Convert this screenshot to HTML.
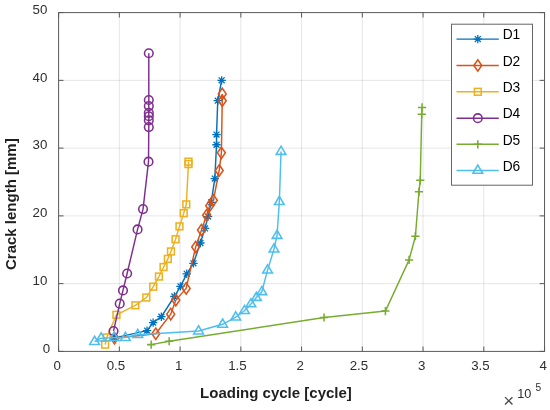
<!DOCTYPE html>
<html lang="en"><head><meta charset="utf-8"><title>Crack length vs loading cycle</title>
<style>
html,body{margin:0;padding:0;background:#fff;}
body{width:550px;height:410px;overflow:hidden;}
svg{display:block;}
text{font-family:"Liberation Sans",sans-serif;fill:#2e2e2e;}
.tk{font-size:13.3px;}
.lb{font-size:15px;font-weight:bold;fill:#1f1f1f;}
</style></head><body>
<svg width="550" height="410" viewBox="0 0 550 410">
<rect width="550" height="410" fill="#ffffff"/>
<path d="M119.34 12.6V351.4M180.09 12.6V351.4M240.83 12.6V351.4M301.57 12.6V351.4M362.32 12.6V351.4M423.06 12.6V351.4M483.81 12.6V351.4M58.6 283.64H544.55M58.6 215.88H544.55M58.6 148.12H544.55M58.6 80.36H544.55" stroke="#262626" stroke-opacity="0.13" stroke-width="0.9" fill="none"/>
<g><path d="M114.48 337.85L147.04 330.60L153.12 322.60L161.38 316.71L174.38 296.51L180.45 286.35L186.77 273.81L193.45 263.31L200.38 242.98L204.99 228.42L208.03 216.56L211.19 202.33L214.83 178.61L216.53 144.73L216.53 134.57L217.75 100.69L221.64 80.36" fill="none" stroke="#0072BD" stroke-width="1.45" stroke-linejoin="round"/>
<path d="M110.28 337.85H118.68M114.48 333.65V342.05M111.51 334.88L117.45 340.82M111.51 340.82L117.45 334.88" fill="none" stroke="#0072BD" stroke-width="1.3"/>
<path d="M142.84 330.60H151.24M147.04 326.40V334.80M144.07 327.63L150.01 333.57M144.07 333.57L150.01 327.63" fill="none" stroke="#0072BD" stroke-width="1.3"/>
<path d="M148.92 322.60H157.32M153.12 318.40V326.80M150.15 319.63L156.09 325.57M150.15 325.57L156.09 319.63" fill="none" stroke="#0072BD" stroke-width="1.3"/>
<path d="M157.18 316.71H165.58M161.38 312.51V320.91M158.41 313.74L164.35 319.68M158.41 319.68L164.35 313.74" fill="none" stroke="#0072BD" stroke-width="1.3"/>
<path d="M170.18 296.51H178.58M174.38 292.31V300.71M171.41 293.54L177.35 299.48M171.41 299.48L177.35 293.54" fill="none" stroke="#0072BD" stroke-width="1.3"/>
<path d="M176.25 286.35H184.65M180.45 282.15V290.55M177.48 283.38L183.42 289.32M177.48 289.32L183.42 283.38" fill="none" stroke="#0072BD" stroke-width="1.3"/>
<path d="M182.57 273.81H190.97M186.77 269.61V278.01M183.80 270.84L189.74 276.78M183.80 276.78L189.74 270.84" fill="none" stroke="#0072BD" stroke-width="1.3"/>
<path d="M189.25 263.31H197.65M193.45 259.11V267.51M190.48 260.34L196.42 266.28M190.48 266.28L196.42 260.34" fill="none" stroke="#0072BD" stroke-width="1.3"/>
<path d="M196.18 242.98H204.58M200.38 238.78V247.18M197.41 240.01L203.35 245.95M197.41 245.95L203.35 240.01" fill="none" stroke="#0072BD" stroke-width="1.3"/>
<path d="M200.79 228.42H209.19M204.99 224.22V232.62M202.02 225.45L207.96 231.39M202.02 231.39L207.96 225.45" fill="none" stroke="#0072BD" stroke-width="1.3"/>
<path d="M203.83 216.56H212.23M208.03 212.36V220.76M205.06 213.59L211.00 219.53M205.06 219.53L211.00 213.59" fill="none" stroke="#0072BD" stroke-width="1.3"/>
<path d="M206.99 202.33H215.39M211.19 198.13V206.53M208.22 199.36L214.16 205.30M208.22 205.30L214.16 199.36" fill="none" stroke="#0072BD" stroke-width="1.3"/>
<path d="M210.63 178.61H219.03M214.83 174.41V182.81M211.86 175.64L217.80 181.58M211.86 181.58L217.80 175.64" fill="none" stroke="#0072BD" stroke-width="1.3"/>
<path d="M212.33 144.73H220.73M216.53 140.53V148.93M213.56 141.76L219.50 147.70M213.56 147.70L219.50 141.76" fill="none" stroke="#0072BD" stroke-width="1.3"/>
<path d="M212.33 134.57H220.73M216.53 130.37V138.77M213.56 131.60L219.50 137.54M213.56 137.54L219.50 131.60" fill="none" stroke="#0072BD" stroke-width="1.3"/>
<path d="M213.55 100.69H221.95M217.75 96.49V104.89M214.78 97.72L220.72 103.66M214.78 103.66L220.72 97.72" fill="none" stroke="#0072BD" stroke-width="1.3"/>
<path d="M217.44 80.36H225.84M221.64 76.16V84.56M218.67 77.39L224.61 83.33M218.67 83.33L224.61 77.39" fill="none" stroke="#0072BD" stroke-width="1.3"/>
</g>
<g><path d="M114.48 338.19L155.79 333.78L170.73 314.13L175.84 300.11L186.16 288.38L195.64 247.05L201.47 230.11L206.57 215.20L209.73 205.72L213.38 200.30L219.21 170.48L221.39 152.86L222.24 100.69L222.24 93.91" fill="none" stroke="#D95319" stroke-width="1.45" stroke-linejoin="round"/>
<path d="M114.48 332.49L118.43 338.19L114.48 343.89L110.53 338.19Z" fill="none" stroke="#D95319" stroke-width="1.55" stroke-linejoin="miter"/>
<path d="M155.79 328.08L159.74 333.78L155.79 339.48L151.84 333.78Z" fill="none" stroke="#D95319" stroke-width="1.55" stroke-linejoin="miter"/>
<path d="M170.73 308.43L174.68 314.13L170.73 319.83L166.78 314.13Z" fill="none" stroke="#D95319" stroke-width="1.55" stroke-linejoin="miter"/>
<path d="M175.84 294.41L179.79 300.11L175.84 305.81L171.89 300.11Z" fill="none" stroke="#D95319" stroke-width="1.55" stroke-linejoin="miter"/>
<path d="M186.16 282.68L190.11 288.38L186.16 294.08L182.21 288.38Z" fill="none" stroke="#D95319" stroke-width="1.55" stroke-linejoin="miter"/>
<path d="M195.64 241.35L199.59 247.05L195.64 252.75L191.69 247.05Z" fill="none" stroke="#D95319" stroke-width="1.55" stroke-linejoin="miter"/>
<path d="M201.47 224.41L205.42 230.11L201.47 235.81L197.52 230.11Z" fill="none" stroke="#D95319" stroke-width="1.55" stroke-linejoin="miter"/>
<path d="M206.57 209.50L210.52 215.20L206.57 220.90L202.62 215.20Z" fill="none" stroke="#D95319" stroke-width="1.55" stroke-linejoin="miter"/>
<path d="M209.73 200.02L213.68 205.72L209.73 211.42L205.78 205.72Z" fill="none" stroke="#D95319" stroke-width="1.55" stroke-linejoin="miter"/>
<path d="M213.38 194.60L217.33 200.30L213.38 206.00L209.43 200.30Z" fill="none" stroke="#D95319" stroke-width="1.55" stroke-linejoin="miter"/>
<path d="M219.21 164.78L223.16 170.48L219.21 176.18L215.26 170.48Z" fill="none" stroke="#D95319" stroke-width="1.55" stroke-linejoin="miter"/>
<path d="M221.39 147.16L225.34 152.86L221.39 158.56L217.44 152.86Z" fill="none" stroke="#D95319" stroke-width="1.55" stroke-linejoin="miter"/>
<path d="M222.24 94.99L226.19 100.69L222.24 106.39L218.29 100.69Z" fill="none" stroke="#D95319" stroke-width="1.55" stroke-linejoin="miter"/>
<path d="M222.24 88.21L226.19 93.91L222.24 99.61L218.29 93.91Z" fill="none" stroke="#D95319" stroke-width="1.55" stroke-linejoin="miter"/>
</g>
<g><path d="M105.13 344.62L106.83 337.51L116.43 314.81L135.38 305.32L146.31 297.53L153.24 286.69L158.95 276.53L163.57 267.04L167.82 258.91L170.98 251.45L175.59 239.26L179.48 226.38L183.73 213.17L186.28 204.36L188.47 164.04L188.47 161.67" fill="none" stroke="#EDB120" stroke-width="1.45" stroke-linejoin="round"/>
<rect x="101.73" y="341.22" width="6.8" height="6.8" fill="none" stroke="#EDB120" stroke-width="1.55"/>
<rect x="103.43" y="334.11" width="6.8" height="6.8" fill="none" stroke="#EDB120" stroke-width="1.55"/>
<rect x="113.03" y="311.41" width="6.8" height="6.8" fill="none" stroke="#EDB120" stroke-width="1.55"/>
<rect x="131.98" y="301.92" width="6.8" height="6.8" fill="none" stroke="#EDB120" stroke-width="1.55"/>
<rect x="142.91" y="294.13" width="6.8" height="6.8" fill="none" stroke="#EDB120" stroke-width="1.55"/>
<rect x="149.84" y="283.29" width="6.8" height="6.8" fill="none" stroke="#EDB120" stroke-width="1.55"/>
<rect x="155.55" y="273.13" width="6.8" height="6.8" fill="none" stroke="#EDB120" stroke-width="1.55"/>
<rect x="160.17" y="263.64" width="6.8" height="6.8" fill="none" stroke="#EDB120" stroke-width="1.55"/>
<rect x="164.42" y="255.51" width="6.8" height="6.8" fill="none" stroke="#EDB120" stroke-width="1.55"/>
<rect x="167.58" y="248.05" width="6.8" height="6.8" fill="none" stroke="#EDB120" stroke-width="1.55"/>
<rect x="172.19" y="235.86" width="6.8" height="6.8" fill="none" stroke="#EDB120" stroke-width="1.55"/>
<rect x="176.08" y="222.98" width="6.8" height="6.8" fill="none" stroke="#EDB120" stroke-width="1.55"/>
<rect x="180.33" y="209.77" width="6.8" height="6.8" fill="none" stroke="#EDB120" stroke-width="1.55"/>
<rect x="182.88" y="200.96" width="6.8" height="6.8" fill="none" stroke="#EDB120" stroke-width="1.55"/>
<rect x="185.07" y="160.64" width="6.8" height="6.8" fill="none" stroke="#EDB120" stroke-width="1.55"/>
<rect x="185.07" y="158.27" width="6.8" height="6.8" fill="none" stroke="#EDB120" stroke-width="1.55"/>
</g>
<g><path d="M113.51 331.07L119.71 303.63L122.99 290.42L127.12 273.48L137.57 229.43L143.03 209.10L148.50 161.67L148.80 127.11L148.80 120.34L148.80 116.27L148.80 112.88L148.80 106.11L148.80 100.01L148.80 53.26" fill="none" stroke="#7E2F8E" stroke-width="1.45" stroke-linejoin="round"/>
<circle cx="113.51" cy="331.07" r="4.3" fill="none" stroke="#7E2F8E" stroke-width="1.55"/>
<circle cx="119.71" cy="303.63" r="4.3" fill="none" stroke="#7E2F8E" stroke-width="1.55"/>
<circle cx="122.99" cy="290.42" r="4.3" fill="none" stroke="#7E2F8E" stroke-width="1.55"/>
<circle cx="127.12" cy="273.48" r="4.3" fill="none" stroke="#7E2F8E" stroke-width="1.55"/>
<circle cx="137.57" cy="229.43" r="4.3" fill="none" stroke="#7E2F8E" stroke-width="1.55"/>
<circle cx="143.03" cy="209.10" r="4.3" fill="none" stroke="#7E2F8E" stroke-width="1.55"/>
<circle cx="148.50" cy="161.67" r="4.3" fill="none" stroke="#7E2F8E" stroke-width="1.55"/>
<circle cx="148.80" cy="127.11" r="4.3" fill="none" stroke="#7E2F8E" stroke-width="1.55"/>
<circle cx="148.80" cy="120.34" r="4.3" fill="none" stroke="#7E2F8E" stroke-width="1.55"/>
<circle cx="148.80" cy="116.27" r="4.3" fill="none" stroke="#7E2F8E" stroke-width="1.55"/>
<circle cx="148.80" cy="112.88" r="4.3" fill="none" stroke="#7E2F8E" stroke-width="1.55"/>
<circle cx="148.80" cy="106.11" r="4.3" fill="none" stroke="#7E2F8E" stroke-width="1.55"/>
<circle cx="148.80" cy="100.01" r="4.3" fill="none" stroke="#7E2F8E" stroke-width="1.55"/>
<circle cx="148.80" cy="53.26" r="4.3" fill="none" stroke="#7E2F8E" stroke-width="1.55"/>
</g>
<g><path d="M151.17 344.62L169.15 341.24L324.05 317.52L385.40 311.08L409.09 259.92L415.41 236.21L418.93 191.83L420.27 180.31L421.73 114.24L422.09 107.46" fill="none" stroke="#77AC30" stroke-width="1.45" stroke-linejoin="round"/>
<path d="M147.07 344.62H155.27M151.17 340.52V348.72" fill="none" stroke="#77AC30" stroke-width="1.55"/>
<path d="M165.05 341.24H173.25M169.15 337.14V345.34" fill="none" stroke="#77AC30" stroke-width="1.55"/>
<path d="M319.95 317.52H328.15M324.05 313.42V321.62" fill="none" stroke="#77AC30" stroke-width="1.55"/>
<path d="M381.30 311.08H389.50M385.40 306.98V315.18" fill="none" stroke="#77AC30" stroke-width="1.55"/>
<path d="M404.99 259.92H413.19M409.09 255.82V264.02" fill="none" stroke="#77AC30" stroke-width="1.55"/>
<path d="M411.31 236.21H419.51M415.41 232.11V240.31" fill="none" stroke="#77AC30" stroke-width="1.55"/>
<path d="M414.83 191.83H423.03M418.93 187.73V195.93" fill="none" stroke="#77AC30" stroke-width="1.55"/>
<path d="M416.17 180.31H424.37M420.27 176.21V184.41" fill="none" stroke="#77AC30" stroke-width="1.55"/>
<path d="M417.63 114.24H425.83M421.73 110.14V118.34" fill="none" stroke="#77AC30" stroke-width="1.55"/>
<path d="M417.99 107.46H426.19M422.09 103.36V111.56" fill="none" stroke="#77AC30" stroke-width="1.55"/>
</g>
<g><path d="M94.56 341.57L101.24 338.19L114.00 337.64L125.42 337.64L137.81 334.66L198.55 331.07L222.61 324.30L235.73 317.18L244.48 310.74L250.91 303.97L256.38 297.53L261.85 291.77L267.56 270.09L274.00 249.08L277.03 235.53L279.34 201.65L281.04 151.51" fill="none" stroke="#4DBEEE" stroke-width="1.45" stroke-linejoin="round"/>
<path d="M94.56 336.27L99.41 344.42L89.71 344.42Z" fill="none" stroke="#4DBEEE" stroke-width="1.55" stroke-linejoin="miter"/>
<path d="M101.24 332.89L106.09 341.04L96.39 341.04Z" fill="none" stroke="#4DBEEE" stroke-width="1.55" stroke-linejoin="miter"/>
<path d="M114.00 332.34L118.85 340.49L109.15 340.49Z" fill="none" stroke="#4DBEEE" stroke-width="1.55" stroke-linejoin="miter"/>
<path d="M125.42 332.34L130.27 340.49L120.57 340.49Z" fill="none" stroke="#4DBEEE" stroke-width="1.55" stroke-linejoin="miter"/>
<path d="M137.81 329.36L142.66 337.51L132.96 337.51Z" fill="none" stroke="#4DBEEE" stroke-width="1.55" stroke-linejoin="miter"/>
<path d="M198.55 325.77L203.40 333.92L193.70 333.92Z" fill="none" stroke="#4DBEEE" stroke-width="1.55" stroke-linejoin="miter"/>
<path d="M222.61 319.00L227.46 327.15L217.76 327.15Z" fill="none" stroke="#4DBEEE" stroke-width="1.55" stroke-linejoin="miter"/>
<path d="M235.73 311.88L240.58 320.03L230.88 320.03Z" fill="none" stroke="#4DBEEE" stroke-width="1.55" stroke-linejoin="miter"/>
<path d="M244.48 305.44L249.33 313.59L239.63 313.59Z" fill="none" stroke="#4DBEEE" stroke-width="1.55" stroke-linejoin="miter"/>
<path d="M250.91 298.67L255.76 306.82L246.06 306.82Z" fill="none" stroke="#4DBEEE" stroke-width="1.55" stroke-linejoin="miter"/>
<path d="M256.38 292.23L261.23 300.38L251.53 300.38Z" fill="none" stroke="#4DBEEE" stroke-width="1.55" stroke-linejoin="miter"/>
<path d="M261.85 286.47L266.70 294.62L257.00 294.62Z" fill="none" stroke="#4DBEEE" stroke-width="1.55" stroke-linejoin="miter"/>
<path d="M267.56 264.79L272.41 272.94L262.71 272.94Z" fill="none" stroke="#4DBEEE" stroke-width="1.55" stroke-linejoin="miter"/>
<path d="M274.00 243.78L278.85 251.93L269.15 251.93Z" fill="none" stroke="#4DBEEE" stroke-width="1.55" stroke-linejoin="miter"/>
<path d="M277.03 230.23L281.88 238.38L272.18 238.38Z" fill="none" stroke="#4DBEEE" stroke-width="1.55" stroke-linejoin="miter"/>
<path d="M279.34 196.35L284.19 204.50L274.49 204.50Z" fill="none" stroke="#4DBEEE" stroke-width="1.55" stroke-linejoin="miter"/>
<path d="M281.04 146.21L285.89 154.36L276.19 154.36Z" fill="none" stroke="#4DBEEE" stroke-width="1.55" stroke-linejoin="miter"/>
</g>
<path d="M58.60 351.4v-4.9M58.60 12.6v4.9M119.34 351.4v-4.9M119.34 12.6v4.9M180.09 351.4v-4.9M180.09 12.6v4.9M240.83 351.4v-4.9M240.83 12.6v4.9M301.57 351.4v-4.9M301.57 12.6v4.9M362.32 351.4v-4.9M362.32 12.6v4.9M423.06 351.4v-4.9M423.06 12.6v4.9M483.81 351.4v-4.9M483.81 12.6v4.9M544.55 351.4v-4.9M544.55 12.6v4.9M58.6 351.40h4.9M544.55 351.40h-4.9M58.6 283.64h4.9M544.55 283.64h-4.9M58.6 215.88h4.9M544.55 215.88h-4.9M58.6 148.12h4.9M544.55 148.12h-4.9M58.6 80.36h4.9M544.55 80.36h-4.9M58.6 12.60h4.9M544.55 12.60h-4.9" stroke="#595959" stroke-width="1" fill="none"/>
<rect x="58.6" y="12.6" width="485.95" height="338.80" fill="none" stroke="#595959" stroke-width="1"/>
<text class="tk" x="53.53" y="370.1">0</text>
<text class="tk" x="106.68" y="370.1">0.5</text>
<text class="tk" x="175.02" y="370.1">1</text>
<text class="tk" x="228.17" y="370.1">1.5</text>
<text class="tk" x="296.51" y="370.1">2</text>
<text class="tk" x="349.66" y="370.1">2.5</text>
<text class="tk" x="418.00" y="370.1">3</text>
<text class="tk" x="471.14" y="370.1">3.5</text>
<text class="tk" x="539.48" y="370.1">4</text>
<text class="tk" x="42.67" y="352.60">0</text>
<text class="tk" x="32.54" y="284.84">10</text>
<text class="tk" x="32.54" y="217.08">20</text>
<text class="tk" x="32.54" y="149.32">30</text>
<text class="tk" x="32.54" y="81.56">40</text>
<text class="tk" x="32.54" y="13.80">50</text>
<text class="lb" x="200.1" y="398">Loading cycle [cycle]</text>
<text class="lb" transform="translate(16.0 270.0) rotate(-90)">Crack length [mm]</text>
<text x="503.3" y="406.6" style="font-size:18.8px;fill:#4a4a4a">×</text>
<text x="517.2" y="398.1" style="font-size:12.7px">10</text>
<text x="535.5" y="390.7" style="font-size:10.2px">5</text>
<rect x="451.5" y="24.2" width="81.00" height="161.00" fill="#ffffff" stroke="#666666" stroke-width="1"/>
<path d="M456.5 39.1H498.8" stroke="#0072BD" stroke-width="1.45" fill="none"/>
<path d="M473.60 39.10H482.00M477.80 34.90V43.30M474.83 36.13L480.77 42.07M474.83 42.07L480.77 36.13" fill="none" stroke="#0072BD" stroke-width="1.3"/>
<text x="502.7" y="39.30" style="font-size:13.75px;fill:#000">D1</text>
<path d="M456.5 65.5H498.8" stroke="#D95319" stroke-width="1.45" fill="none"/>
<path d="M477.80 59.80L481.75 65.50L477.80 71.20L473.85 65.50Z" fill="none" stroke="#D95319" stroke-width="1.55" stroke-linejoin="miter"/>
<text x="502.7" y="65.70" style="font-size:13.75px;fill:#000">D2</text>
<path d="M456.5 91.8H498.8" stroke="#EDB120" stroke-width="1.45" fill="none"/>
<rect x="474.40" y="88.40" width="6.8" height="6.8" fill="none" stroke="#EDB120" stroke-width="1.55"/>
<text x="502.7" y="92.00" style="font-size:13.75px;fill:#000">D3</text>
<path d="M456.5 118.2H498.8" stroke="#7E2F8E" stroke-width="1.45" fill="none"/>
<circle cx="477.80" cy="118.20" r="4.3" fill="none" stroke="#7E2F8E" stroke-width="1.55"/>
<text x="502.7" y="118.40" style="font-size:13.75px;fill:#000">D4</text>
<path d="M456.5 144.3H498.8" stroke="#77AC30" stroke-width="1.45" fill="none"/>
<path d="M473.70 144.30H481.90M477.80 140.20V148.40" fill="none" stroke="#77AC30" stroke-width="1.55"/>
<text x="502.7" y="144.50" style="font-size:13.75px;fill:#000">D5</text>
<path d="M456.5 170.4H498.8" stroke="#4DBEEE" stroke-width="1.45" fill="none"/>
<path d="M477.80 165.10L482.65 173.25L472.95 173.25Z" fill="none" stroke="#4DBEEE" stroke-width="1.55" stroke-linejoin="miter"/>
<text x="502.7" y="170.60" style="font-size:13.75px;fill:#000">D6</text>
</svg></body></html>
